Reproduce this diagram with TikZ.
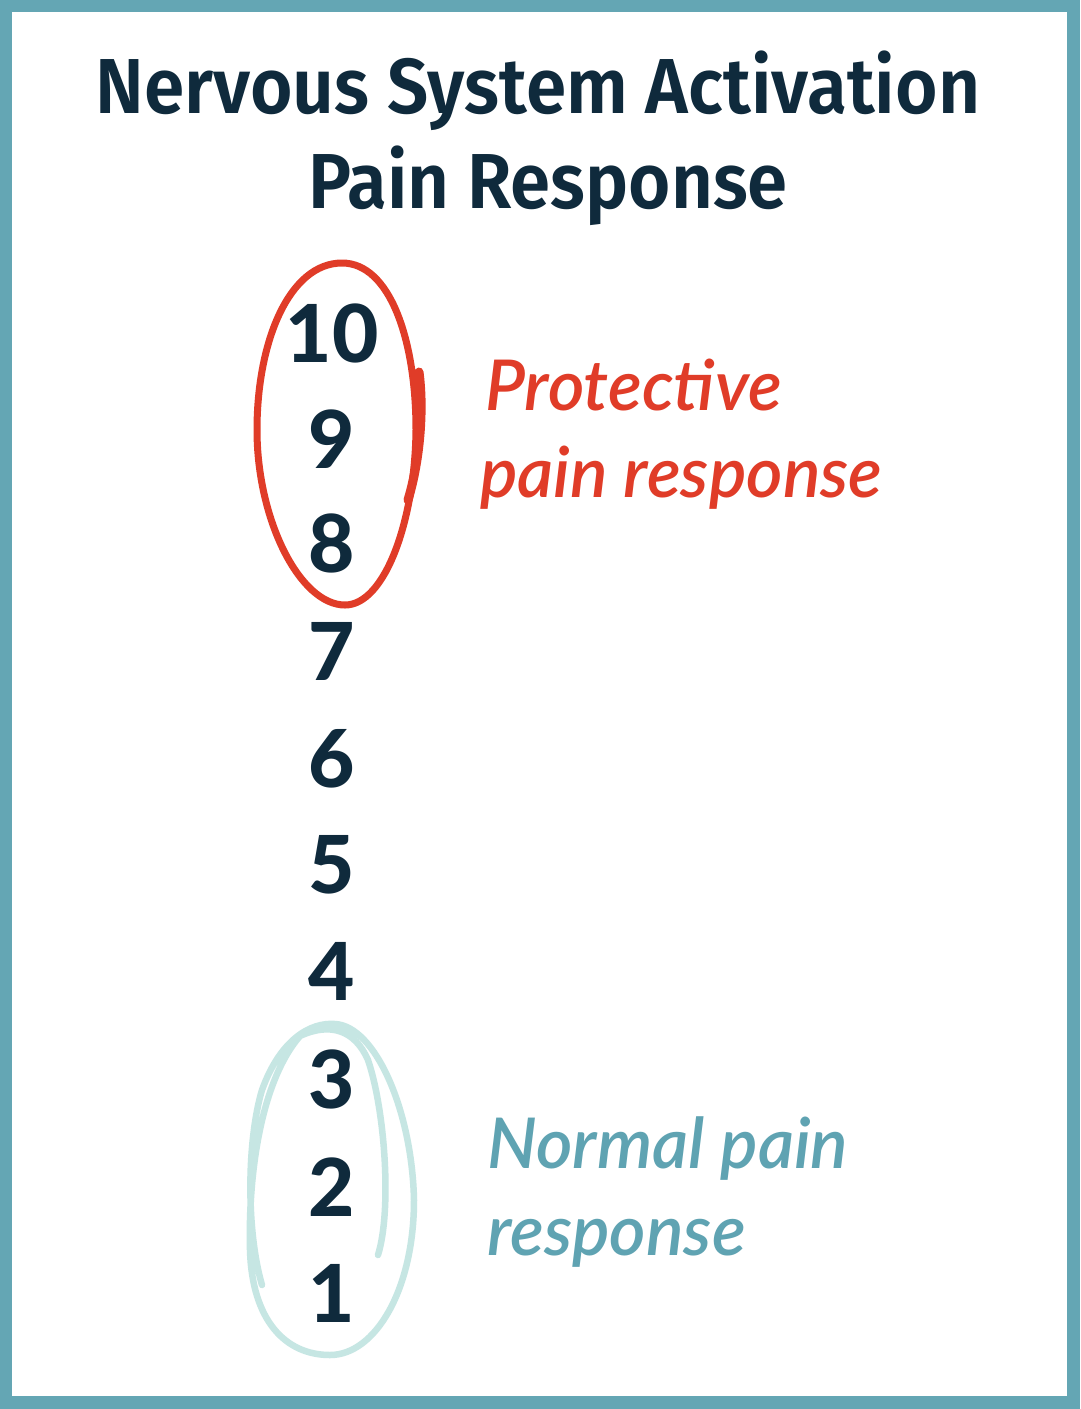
\documentclass[tikz,border=0pt]{standalone}
\usepackage{fontspec}
\setmainfont{Fira Sans}
\newfontfamily\titlefont{Fira Sans SemiBold}
\newfontfamily\numfont{Lato}[UprightFont=* Heavy]
\newfontfamily\handfont{Lato}[UprightFont=* Semibold Italic]
\definecolor{framecol}{HTML}{64A6B4}
\definecolor{ink}{HTML}{0F2A3C}
\definecolor{redc}{HTML}{E03C28}
\definecolor{tealtext}{HTML}{5FA3B2}
\definecolor{tealring}{HTML}{C6E6E3}
\tikzset{
  numlabel/.style={font=\numfont\fontsize{80}{80}\selectfont, text=ink, anchor=base, inner sep=0pt},
  titleline/.style={font=\titlefont\fontsize{78}{80}\selectfont, text=ink, anchor=base, inner sep=0pt},
  hand/.style={font=\handfont\fontsize{70}{72}\selectfont, anchor=base west, inner sep=0pt},
  redring/.style={draw=redc, line width=7pt},
  tealringst/.style={draw=tealring, line width=6.5pt, line cap=round},
}
\begin{document}
\begin{tikzpicture}[x=1pt,y=-1pt]
\useasboundingbox (0,0) rectangle (1080,1409);
\fill[framecol] (0,0) rectangle (1080,1409);
\fill[white] (12,12) rectangle (1067,1396);
% title
\node[titleline] (t1) at (538,113) {\scalebox{0.935}[1]{Nervous System Activation}};
\node[titleline] (t2) at (548,208) {\scalebox{0.93}[1]{Pain Response}};
% numbers
\node[numlabel] (n10) at (332,362) {10};
\node[numlabel] (n9) at (332,468) {9};
\node[numlabel] (n8) at (332,572) {8};
\node[numlabel] (n7) at (332,680) {7};
\node[numlabel] (n6) at (332,787) {6};
\node[numlabel] (n5) at (332,893) {5};
\node[numlabel] (n4) at (332,1000) {4};
\node[numlabel] (n3) at (332,1108) {3};
\node[numlabel] (n2) at (332,1216) {2};
\node[numlabel] (n1) at (332,1322) {1};
% red ring
\draw[redring] (342,263) .. controls (290,263) and (257,340) .. (257,430)
  .. controls (257,520) and (300,605) .. (345,605)
  .. controls (385,605) and (415,520) .. (416,430)
  .. controls (416,340) and (390,263) .. (342,263) -- cycle;
\draw[redc, line width=9pt, line cap=round] (419,372) .. controls (424,410) and (420,460) .. (408,500);
% teal ring
\draw[tealringst] (262,1285) .. controls (246,1230) and (247,1140) .. (262,1090)
  .. controls (280,1040) and (310,1022) .. (335,1024)
  .. controls (375,1026) and (412,1110) .. (414,1200)
  .. controls (414,1290) and (375,1355) .. (330,1355)
  .. controls (285,1355) and (252,1320) .. (250,1250)
  .. controls (248,1170) and (262,1080) .. (300,1036)
  .. controls (330,1022) and (355,1030) .. (368,1060)
  .. controls (385,1110) and (392,1210) .. (378,1255);
% labels
\node[hand, text=redc] (p1) at (485,410) {Protective};
\node[hand, text=redc] (p2) at (480,497) {pain response};
\node[hand, text=tealtext] (q1) at (487,1168) {Normal pain};
\node[hand, text=tealtext] (q2) at (487,1255) {response};
\end{tikzpicture}
\end{document}
